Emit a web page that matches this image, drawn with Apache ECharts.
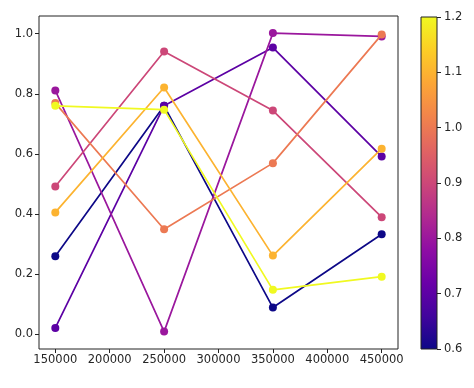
<!DOCTYPE html>
<html><head><meta charset="utf-8">
<script src="https://cdn.jsdelivr.net/npm/echarts@6/dist/echarts.min.js"></script>
<style>html,body{margin:0;padding:0;background:#fff}#c{width:474px;height:388px}</style>
</head><body><div id="c"></div>
<script>
const xValues = [150000, 250000, 350000, 450000];
const colorValues = [0.6, 0.7, 0.8, 0.9, 1.0, 1.1, 1.2];
const series06 = [0.259, 0.76, 0.088, 0.332];
const series07 = [0.02, 0.76, 0.954, 0.591];
const series08 = [0.811, 0.008, 1.002, 0.991];
const series09 = [0.491, 0.941, 0.744, 0.389];
const series10 = [0.769, 0.349, 0.569, 0.997];
const series11 = [0.405, 0.821, 0.261, 0.617];
const series12 = [0.76, 0.747, 0.147, 0.191];
const xTicks = [150000, 200000, 250000, 300000, 350000, 400000, 450000];
const yTicks = [0.0, 0.2, 0.4, 0.6, 0.8, 1.0];
const cbTicks = [0.6, 0.7, 0.8, 0.9, 1.0, 1.1, 1.2];

const allSeries = [series06, series07, series08, series09, series10, series11, series12];
const plasmaStops = ['#0d0887','#41049d','#6a00a8','#8f0da4','#b12a90','#cc4778','#e16462','#f2844b','#fca636','#fcce25','#f0f921'];
function hex(c){return [parseInt(c.slice(1,3),16),parseInt(c.slice(3,5),16),parseInt(c.slice(5,7),16)];}
function plasma(t){
  t=Math.max(0,Math.min(1,t));
  const p=t*10, i=Math.min(9,Math.floor(p)), f=p-i;
  const a=hex(plasmaStops[i]), b=hex(plasmaStops[i+1]);
  const r=a.map((v,k)=>Math.round(v+(b[k]-v)*f));
  return 'rgb('+r.join(',')+')';
}
const vmin=0.6, vmax=1.2;
const font = 'DejaVu Sans';
const txt = '#262626';

const lineSeries = allSeries.map((vals, idx) => {
  const col = plasma((colorValues[idx]-vmin)/(vmax-vmin));
  return {
    type:'line', xAxisIndex:0, yAxisIndex:0,
    data: xValues.map((x,i)=>[x, vals[i]]),
    symbol:'circle', symbolSize:8, showSymbol:true,
    lineStyle:{color:col, width:1.7},
    itemStyle:{color:col},
    z: 2+idx, animation:false, silent:true
  };
});

const chart = echarts.init(document.getElementById('c'), null, {renderer:'canvas'});
chart.setOption({
  animation:false,
  backgroundColor:'#fff',
  grid:[
    {left:39, top:16, width:359, height:333, show:true, borderColor:'#222', borderWidth:1, backgroundColor:'transparent'},
    {left:421, top:17, width:16, height:332, show:true, borderColor:'#222', borderWidth:1,
     backgroundColor:new echarts.graphic.LinearGradient(0,1,0,0, plasmaStops.map((c,i)=>({offset:i/10, color:c})))}
  ],
  xAxis:[
    {type:'value', gridIndex:0, min:135000, max:465000, position:'bottom',
     axisLine:{show:false, onZero:false}, splitLine:{show:false},
     axisTick:{show:true, inside:false, length:4, lineStyle:{color:'#222'}, customValues:xTicks},
     axisLabel:{color:txt, fontFamily:font, fontSize:11.5, margin:5, customValues:xTicks, formatter:v=>String(v)}},
    {type:'value', gridIndex:1, min:0, max:1, show:false}
  ],
  yAxis:[
    {type:'value', gridIndex:0, min:-0.05, max:1.059, position:'left',
     axisLine:{show:false, onZero:false}, splitLine:{show:false},
     axisTick:{show:true, length:4, lineStyle:{color:'#222'}, customValues:yTicks},
     axisLabel:{color:txt, fontFamily:font, fontSize:11.5, margin:6, customValues:yTicks, formatter:v=>v.toFixed(1)}},
    {type:'value', gridIndex:1, min:0.6, max:1.2, interval:0.1, position:'right',
     axisLine:{show:false, onZero:false}, splitLine:{show:false},
     axisTick:{show:true, length:4, lineStyle:{color:'#222'}, customValues:cbTicks},
     axisLabel:{color:txt, fontFamily:font, fontSize:11.5, margin:7, customValues:cbTicks, formatter:v=>v.toFixed(1)}}
  ],
  series: lineSeries
});
</script></body></html>
